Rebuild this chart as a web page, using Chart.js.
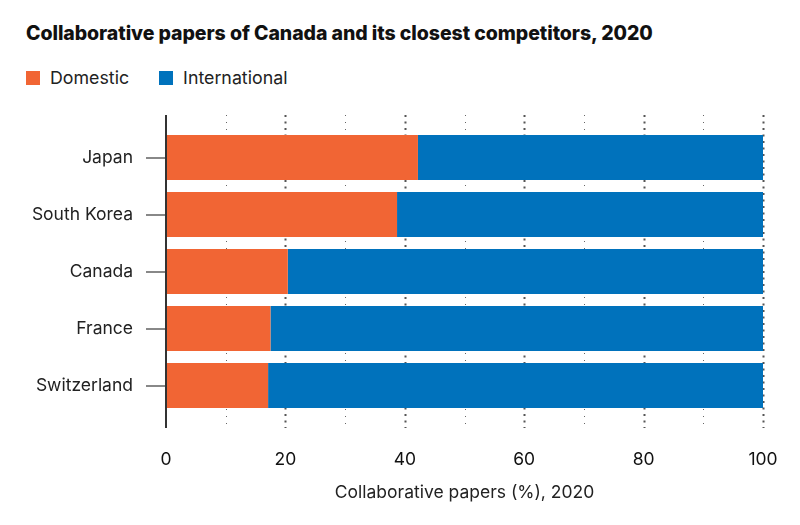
<!DOCTYPE html>
<html>
<head>
<meta charset="utf-8">
<script src="https://cdn.jsdelivr.net/npm/chart.js@4"></script>
<style>
  body { margin: 0; background: #fff; font-family: Inter, sans-serif; color: #111; }
  #title { position: absolute; left: 26px; top: 21px; font-size: 19.5px; font-weight: 800; line-height: 24px; letter-spacing: -0.07px; }
  #legend { position: absolute; left: 26px; top: 68px; font-size: 17.8px; line-height: 20px; display: flex; color: #222; }
  .item { display: flex; align-items: center; margin-right: 30px; }
  .box { width: 14px; height: 14px; margin-right: 10px; }
  #wrap { position: absolute; left: 0; top: 100px; width: 800px; height: 425px; }
</style>
</head>
<body>
<div id="title">Collaborative papers of Canada and its closest competitors, 2020</div>
<div id="legend"></div>
<div id="wrap"><canvas id="chart"></canvas></div>
<script>
let countries = ['Japan', 'South Korea', 'Canada', 'France', 'Switzerland'];
let domestic = [42.2, 38.7, 20.4, 17.5, 17.1];
let international = [57.8, 61.3, 79.6, 82.5, 82.9];
let seriesNames = ['Domestic', 'International'];
let seriesColors = ['#F16534', '#0072BC'];
let xTicks = [0, 20, 40, 60, 80, 100];

// legend in html
let legend = document.getElementById('legend');
seriesNames.forEach((name, i) => {
  let item = document.createElement('div');
  item.className = 'item';
  item.innerHTML = '<span class="box" style="background:' + seriesColors[i] + '"></span>' + name;
  legend.appendChild(item);
});

// gridlines and axis line drawn a bit past the chart area, like the original
const extendedGrid = {
  id: 'extendedGrid',
  beforeDatasetsDraw(chart) {
    const ctx = chart.ctx;
    const area = chart.chartArea;
    const x = chart.scales.x;
    const top = area.top - 14;
    const bottom = area.bottom + 14;
    ctx.save();
    x.ticks.forEach(t => {
      if (t.value === 0) return;
      const px = Math.round(x.getPixelForValue(t.value)) + 0.5;
      const major = t.value % 20 === 0;
      ctx.strokeStyle = major ? '#555' : '#666';
      ctx.lineWidth = major ? 2 : 1;
      ctx.setLineDash(major ? [2, 4.5] : [1, 6]);
      ctx.beginPath();
      ctx.moveTo(px, top);
      ctx.lineTo(px, bottom);
      ctx.stroke();
    });
    ctx.restore();
  },
  afterDatasetsDraw(chart) {
    const ctx = chart.ctx;
    const area = chart.chartArea;
    ctx.save();
    ctx.strokeStyle = '#333';
    ctx.lineWidth = 2;
    ctx.beginPath();
    ctx.moveTo(area.left, area.top - 14);
    ctx.lineTo(area.left, area.bottom + 14);
    ctx.stroke();
    ctx.restore();
  }
};

new Chart(document.getElementById('chart'), {
  type: 'bar',
  data: {
    labels: countries,
    datasets: [
      { label: seriesNames[0], data: domestic, backgroundColor: seriesColors[0] },
      { label: seriesNames[1], data: international, backgroundColor: seriesColors[1] }
    ]
  },
  options: {
    indexAxis: 'y',
    responsive: true,
    maintainAspectRatio: false,
    animation: false,
    layout: { padding: { top: 29, right: 37, bottom: 0, left: 0 } },
    datasets: { bar: { barPercentage: 0.79, categoryPercentage: 1 } },
    plugins: { legend: { display: false }, tooltip: { enabled: false } },
    scales: {
      x: {
        stacked: true,
        min: 0,
        max: 100,
        // fixed height, and no extra side padding from the big tick padding
        afterFit: s => { s.height = 111; s.paddingLeft = 0; s.paddingRight = 0; },
        ticks: {
          stepSize: 10,
          autoSkip: false,
          maxRotation: 0,
          padding: 35,
          color: '#111',
          font: { family: 'Inter', size: 17.5 },
          callback: v => xTicks.includes(v) ? v : ''
        },
        grid: { display: false, drawTicks: false },
        border: { display: false },
        title: {
          display: true,
          text: 'Collaborative papers (%), 2020',
          color: '#222',
          font: { family: 'Inter', size: 17.5 },
          padding: { top: 0, bottom: 22 }
        }
      },
      y: {
        stacked: true,
        afterFit: s => { s.width = 166; },
        ticks: {
          padding: 13,
          color: '#222',
          font: { family: 'Inter', size: 17.5 }
        },
        grid: { offset: false, drawOnChartArea: false, drawTicks: true, tickLength: 20, color: '#888', lineWidth: 2 },
        border: { display: false }
      }
    }
  },
  plugins: [extendedGrid]
});
</script>
</body>
</html>
